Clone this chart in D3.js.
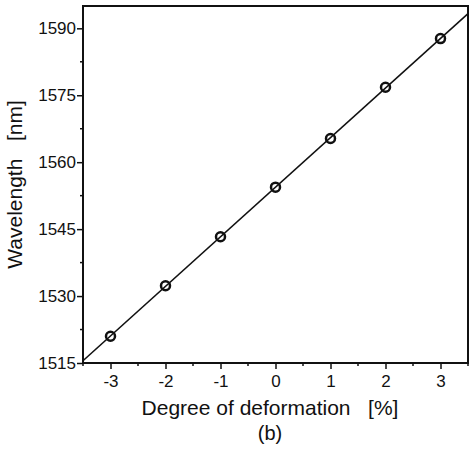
<!DOCTYPE html><html><head><meta charset="utf-8"><script src="https://cdn.jsdelivr.net/npm/d3@7"></script>
<style>body{margin:0;background:#fff}text{font-family:"Liberation Sans",Arial,sans-serif;fill:#111}</style></head><body>
<svg id="c" width="474" height="449"></svg>
<script>
const xs=[-3,-2,-1,0,1,2,3];
const ys=[1521.0,1532.3,1543.3,1554.4,1565.3,1576.8,1587.7];
const xTicks=[-3,-2,-1,0,1,2,3];
const yTicks=[1515,1530,1545,1560,1575,1590];
const svg=d3.select("#c");
const L=83,R=468,T=6,B=363;
const x=d3.scaleLinear().domain([-3.5,3.5]).range([L,R]);
const y=d3.scaleLinear().domain([1515,1595]).range([B,T]);
const g=svg.append("g");
const xm=d3.range(-3.5,3.51,0.5).filter(v=>!xTicks.includes(v));
const ym=d3.range(1522.5,1595,15);
g.selectAll(".xm").data(xm).join("line").attr("x1",d=>x(d)).attr("x2",d=>x(d)).attr("y1",B).attr("y2",B+3).attr("stroke","#111").attr("stroke-width",1.5);
g.selectAll(".ym").data(ym).join("line").attr("y1",d=>y(d)).attr("y2",d=>y(d)).attr("x1",L).attr("x2",L-3).attr("stroke","#111").attr("stroke-width",1.5);
const xa=svg.append("g").attr("transform",`translate(0,${B})`).call(d3.axisBottom(x).tickValues(xTicks).tickSize(6).tickPadding(6).tickFormat(d=>String(d)));
const ya=svg.append("g").attr("transform",`translate(${L},0)`).call(d3.axisLeft(y).tickValues(yTicks).tickSize(6).tickPadding(1).tickFormat(d=>String(d)));
[xa,ya].forEach(a=>{a.selectAll("text").style("font-size","17px").style("fill","#111");a.selectAll("line").attr("stroke","#111").attr("stroke-width",1.5);a.select(".domain").remove();});
svg.append("rect").attr("x",L).attr("y",T).attr("width",R-L).attr("height",B-T).attr("fill","none").attr("stroke","#111").attr("stroke-width",2);
const mx=d3.mean(xs),my=d3.mean(ys);
const slope=d3.sum(xs.map((v,i)=>(v-mx)*(ys[i]-my)))/d3.sum(xs.map(v=>(v-mx)**2));
const icpt=my-slope*mx;
svg.append("clipPath").attr("id","cp").append("rect").attr("x",L).attr("y",T).attr("width",R-L).attr("height",B-T);
svg.append("line").attr("clip-path","url(#cp)").attr("x1",x(-3.5)).attr("y1",y(icpt+slope*-3.5)).attr("x2",x(3.5)).attr("y2",y(icpt+slope*3.5)).attr("stroke","#111").attr("stroke-width",1.5);
svg.selectAll(".pt").data(xs).join("circle").attr("cx",d=>x(d)).attr("cy",(d,i)=>y(ys[i])).attr("r",4.5).attr("fill","none").attr("stroke","#111").attr("stroke-width",2.5);
svg.append("text").attr("x",270).attr("y",415).attr("text-anchor","middle").style("font-size","21px").attr("xml:space","preserve").text("Degree of deformation   [%]");
svg.append("text").attr("x",270).attr("y",440).attr("text-anchor","middle").style("font-size","20px").text("(b)");
svg.append("text").attr("transform",`translate(22,${(T+B)/2}) rotate(-90)`).attr("text-anchor","middle").style("font-size","21px").attr("xml:space","preserve").text("Wavelength   [nm]");
</script></body></html>
